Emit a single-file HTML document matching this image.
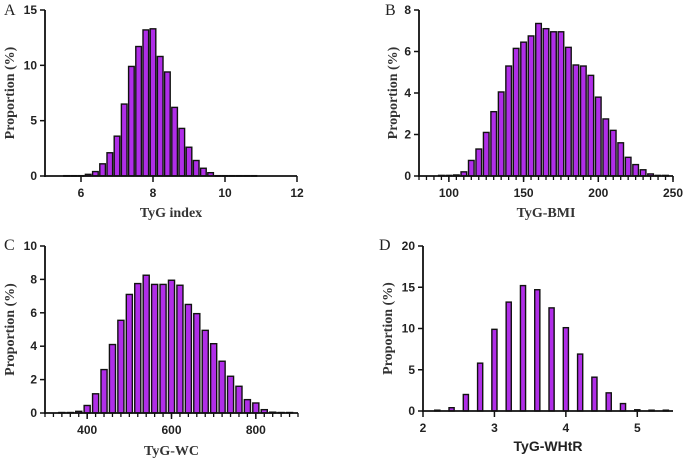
<!DOCTYPE html>
<html><head><meta charset="utf-8"><style>
body{margin:0;background:#fff;width:685px;height:459px;overflow:hidden}
svg{display:block}
.tk{font-family:"Liberation Sans",sans-serif;font-weight:bold;font-size:12px;fill:#222}
.ttl{font-family:"Liberation Serif",serif;font-weight:bold;font-size:14px;fill:#333}
.let{font-family:"Liberation Serif",serif;font-size:16px;fill:#222}
</style></head><body>
<svg id="fig" width="685" height="459" viewBox="0 0 685 459" xmlns="http://www.w3.org/2000/svg"></svg>
<script>
// Panel A: TyG index
const aCenters=[5.6,5.8,6.0,6.2,6.4,6.6,6.8,7.0,7.2,7.4,7.6,7.8,8.0,8.2,8.4,8.6,8.8,9.0,9.2,9.4,9.6,9.8,10.0,10.2,10.4,10.6,10.8];
const aValues=[0.03,0.03,0.03,0.15,0.4,1.1,2.1,3.6,6.5,9.9,11.7,13.2,13.3,10.8,9.4,6.2,4.3,2.6,1.4,0.7,0.3,0.03,0.03,0.03,0.03,0.03,0.03];
const aXTicks=[6,8,10,12];
const aYTicks=[0,5,10,15];
// Panel B: TyG-BMI
const bCenters=[95,100,105,110,115,120,125,130,135,140,145,150,155,160,165,170,175,180,185,190,195,200,205,210,215,220,225,230,235,240,245];
const bValues=[0.03,0.03,0.05,0.2,0.75,1.3,2.1,3.1,4.05,5.3,6.15,6.45,6.75,7.35,7.1,6.95,6.95,6.2,5.35,5.3,4.85,3.8,2.75,2.2,1.6,0.9,0.55,0.3,0.1,0.03,0.03];
const bXTicks=[100,150,200,250];
const bYTicks=[0,2,4,6,8];
// Panel C: TyG-WC
const cCenters=[340,360,380,400,420,440,460,480,500,520,540,560,580,600,620,640,660,680,700,720,740,760,780,800,820,840,860,880];
const cValues=[0.03,0.03,0.1,0.45,1.15,2.6,4.1,5.55,7.1,7.75,8.25,7.7,7.7,7.95,7.65,6.5,5.95,4.95,4.15,3.1,2.2,1.6,0.8,0.6,0.2,0.05,0.03,0.03];
const cXTicks=[400,600,800];
const cYTicks=[0,2,4,6,8,10];
// Panel D: TyG-WHtR
const dCenters=[2.2,2.4,2.6,2.8,3.0,3.2,3.4,3.6,3.8,4.0,4.2,4.4,4.6,4.8,5.0,5.2,5.4];
const dValues=[0.1,0.4,2.0,5.8,9.9,13.2,15.2,14.7,12.5,10.1,6.9,4.1,2.2,0.9,0.15,0.1,0.1];
const dXTicks=[2,3,4,5];
const dYTicks=[0,5,10,15,20];

const NS="http://www.w3.org/2000/svg";
const svg=document.getElementById('fig');
function mk(tag,attrs,parent,text){const e=document.createElementNS(NS,tag);for(const k in attrs)e.setAttribute(k,attrs[k]);if(text!==undefined)e.textContent=text;(parent||svg).appendChild(e);return e;}

function panel(o){
  const g=mk('g',{});
  
  
  const xs=v=>o.x0+(v-o.xmin)/(o.xmax-o.xmin)*(o.x1-o.x0);
  const ys=v=>o.y1-(v-o.ymin)/(o.ymax-o.ymin)*(o.y1-o.y0);
  const bw=o.binw*(o.x1-o.x0)/(o.xmax-o.xmin)*o.fill;
  o.centers.forEach((c,i)=>{
    const v=o.values[i];
    const r=mk('rect',{x:xs(c)-bw/2,y:ys(v),width:bw,height:Math.max(0.5,o.y1-ys(v)),fill:'#b02ee8',stroke:'#111','stroke-width':1.4},g);
    
    
  });
  const ya=mk('line',{x1:o.x0,y1:o.y0,x2:o.x0,y2:o.y1+1,stroke:'#111','stroke-width':1.8},g);
  
  
  const xa=mk('line',{x1:o.x0-1,y1:o.y1,x2:o.x1,y2:o.y1,stroke:'#111','stroke-width':1.8},g);
  
  
  o.yticks.forEach(t=>{
    mk('line',{x1:o.x0-5,y1:ys(t),x2:o.x0,y2:ys(t),stroke:'#111','stroke-width':1.5},g);
    const l=mk('text',{x:o.x0-8,y:ys(t)+4,'text-anchor':'end',class:'tk'},g,String(t));
    
    
  });
  if(o.minor){for(let v=o.xmin;v<=o.xmax+1e-9;v+=o.binw){mk('line',{x1:xs(v),y1:o.y1,x2:xs(v),y2:o.y1+4,stroke:'#111','stroke-width':1.3},g);}}
  o.xticks.forEach(t=>{
    mk('line',{x1:xs(t),y1:o.y1,x2:xs(t),y2:o.y1+6,stroke:'#111','stroke-width':1.5},g);
    const l=mk('text',{x:xs(t),y:o.y1+21,'text-anchor':'middle',class:'tk'},g,String(t));
    
    
  });
  const xt=mk('text',{x:(o.x0+o.x1)/2,y:o.xty,'text-anchor':'middle',class:o.sansX?'tk':'ttl',style:o.sansX?'font-size:14px':''},g,o.xlabel);
  
  
  const yc=(o.y0+o.y1)/2;
  const yt=mk('text',{x:o.ytx,y:yc,'text-anchor':'middle',class:'ttl',transform:`rotate(-90 ${o.ytx} ${yc})`},g,'Proportion (%)');
  
  
  const pl=mk('text',{x:o.lx,y:o.ly,class:'let'},g,o.id);
  
  
}
panel({id:'A',centers:aCenters,values:aValues,xticks:aXTicks,yticks:aYTicks,x0:45,x1:297,y0:10,y1:176,xmin:5,xmax:12,ymin:0,ymax:15,binw:0.2,fill:0.78,minor:false,xlabel:'TyG index',xty:217,ytx:14,lx:4,ly:15});
panel({id:'B',centers:bCenters,values:bValues,xticks:bXTicks,yticks:bYTicks,x0:419,x1:673,y0:10,y1:176,xmin:80,xmax:250,ymin:0,ymax:8,binw:5,fill:0.75,minor:true,xlabel:'TyG-BMI',xty:217,ytx:397,lx:385,ly:15});
panel({id:'C',centers:cCenters,values:cValues,xticks:cXTicks,yticks:cYTicks,x0:45,x1:298,y0:246,y1:413,xmin:300,xmax:900,ymin:0,ymax:10,binw:20,fill:0.72,minor:true,xlabel:'TyG-WC',xty:455,ytx:14,lx:4,ly:250});
panel({id:'D',centers:dCenters,values:dValues,xticks:dXTicks,yticks:dYTicks,x0:423,x1:673,y0:246,y1:411,xmin:2,xmax:5.5,ymin:0,ymax:20,binw:0.2,fill:0.36,minor:false,xlabel:'TyG-WHtR',xty:451,ytx:392,sansX:true,lx:379,ly:250});
</script>
</body></html>
